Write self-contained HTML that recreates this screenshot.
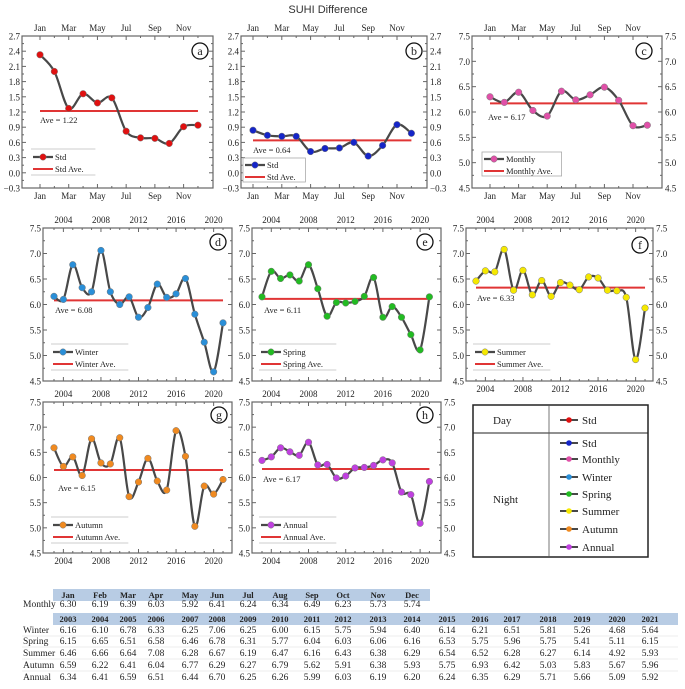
<!DOCTYPE html>
<html><head><meta charset="utf-8"><style>
body{margin:0;background:#fff}
svg{display:block;font-family:"Liberation Serif",serif}
</style></head><body>
<svg id="fig" width="685" height="689" viewBox="0 0 685 689" xmlns="http://www.w3.org/2000/svg">
<text x="328" y="13" font-family="Liberation Sans, sans-serif" font-size="11" fill="#333" text-anchor="middle">SUHI Difference</text>
</svg>
<script>
const months=["Jan","Feb","Mar","Apr","May","Jun","Jul","Aug","Sep","Oct","Nov","Dec"];
const years=[2003,2004,2005,2006,2007,2008,2009,2010,2011,2012,2013,2014,2015,2016,2017,2018,2019,2020,2021];
const dayStd=[2.33,2.0,1.27,1.56,1.38,1.48,0.82,0.69,0.68,0.58,0.91,0.94];
const nightStd=[0.84,0.74,0.72,0.72,0.42,0.48,0.49,0.60,0.33,0.54,0.95,0.78];
const monthly=[6.30,6.19,6.39,6.03,5.92,6.41,6.24,6.34,6.49,6.23,5.73,5.74];
const winter=[6.16,6.10,6.78,6.33,6.25,7.06,6.25,6.00,6.15,5.75,5.94,6.40,6.14,6.21,6.51,5.81,5.26,4.68,5.64];
const spring=[6.15,6.65,6.51,6.58,6.46,6.78,6.31,5.77,6.04,6.03,6.06,6.16,6.53,5.75,5.96,5.75,5.41,5.11,6.15];
const summer=[6.46,6.66,6.64,7.08,6.28,6.67,6.19,6.47,6.16,6.43,6.38,6.29,6.54,6.52,6.28,6.27,6.14,4.92,5.93];
const autumn=[6.59,6.22,6.41,6.04,6.77,6.29,6.27,6.79,5.62,5.91,6.38,5.93,5.75,6.93,6.42,5.03,5.83,5.67,5.96];
const annual=[6.34,6.41,6.59,6.51,6.44,6.70,6.25,6.26,5.99,6.03,6.19,6.20,6.24,6.35,6.29,5.71,5.66,5.09,5.92];
const aves=[1.22,0.64,6.17,6.08,6.11,6.33,6.15,6.17];

const NS="http://www.w3.org/2000/svg";
const svg=document.getElementById('fig');
function mk(tag,attrs,parent){const e=document.createElementNS(NS,tag);for(const k in attrs)e.setAttribute(k,attrs[k]);(parent||svg).appendChild(e);return e;}
function txt(x,y,s,size,anchor,parent){const t=mk('text',{x:x,y:y,'font-size':size,'text-anchor':anchor||'start',fill:'#222'},parent);t.textContent=s;return t;}
function spline(pts){let d="M"+pts[0][0]+","+pts[0][1];for(let i=0;i<pts.length-1;i++){const p0=pts[Math.max(i-1,0)],p1=pts[i],p2=pts[i+1],p3=pts[Math.min(i+2,pts.length-1)];const c1=[p1[0]+(p2[0]-p0[0])/6,p1[1]+(p2[1]-p0[1])/6],c2=[p2[0]-(p3[0]-p1[0])/6,p2[1]-(p3[1]-p1[1])/6];d+=` C${c1[0]},${c1[1]} ${c2[0]},${c2[1]} ${p2[0]},${p2[1]}`;}return d;}

const panels=[
 {id:'a',vals:dayStd,x0:22,x1:213,y0:36,y1:188,ymin:-0.3,ymax:2.7,step:0.3,dec:1,cat:'m',c0:40,dx:14.36,color:'#e01010',right:false,bottom:true,lbl:[200,51],avx:40,avy:123,leg:['Std','Std Ave.'],lx:33,ly:157,box:false},
 {id:'b',vals:nightStd,x0:241,x1:427,y0:36,y1:188,ymin:-0.3,ymax:2.7,step:0.3,dec:1,cat:'m',c0:253,dx:14.4,color:'#1525c8',right:true,bottom:true,lbl:[414,51],avx:253,avy:153,leg:['Std','Std Ave.'],lx:245,ly:165,box:true},
 {id:'c',vals:monthly,x0:472,x1:662,y0:36,y1:188,ymin:4.5,ymax:7.5,step:0.5,dec:1,cat:'m',c0:490,dx:14.3,color:'#e050a8',right:true,bottom:true,lbl:[644,51],avx:488,avy:120,leg:['Monthly','Monthly Ave.'],lx:484,ly:159,box:true},
 {id:'d',vals:winter,x0:43,x1:232,y0:228,y1:381,ymin:4.5,ymax:7.5,step:0.5,dec:1,cat:'y',c0:54,dx:9.39,color:'#2a8fd8',right:false,bottom:false,lbl:[218,242],avx:55,avy:313,leg:['Winter','Winter Ave.'],lx:53,ly:352,box:false},
 {id:'e',vals:spring,x0:252,x1:441,y0:228,y1:381,ymin:4.5,ymax:7.5,step:0.5,dec:1,cat:'y',c0:262,dx:9.3,color:'#22bb22',right:false,bottom:false,lbl:[425,242],avx:264,avy:313,leg:['Spring','Spring Ave.'],lx:261,ly:352,box:false},
 {id:'f',vals:summer,x0:466,x1:653,y0:228,y1:381,ymin:4.5,ymax:7.5,step:0.5,dec:1,cat:'y',c0:476,dx:9.39,color:'#f5e800',right:true,bottom:true,lbl:[640,245],avx:477,avy:301,leg:['Summer','Summer Ave.'],lx:475,ly:352,box:false},
 {id:'g',vals:autumn,x0:43,x1:232,y0:402,y1:553,ymin:4.5,ymax:7.5,step:0.5,dec:1,cat:'y',c0:54,dx:9.39,color:'#f08a20',right:false,bottom:true,lbl:[219,415],avx:58,avy:491,leg:['Autumn','Autumn Ave.'],lx:53,ly:525,box:false},
 {id:'h',vals:annual,x0:252,x1:441,y0:402,y1:553,ymin:4.5,ymax:7.5,step:0.5,dec:1,cat:'y',c0:262,dx:9.3,color:'#c040e0',right:true,bottom:true,lbl:[425,415],avx:263,avy:482,leg:['Annual','Annual Ave.'],lx:261,ly:525,box:false}
];

panels.forEach((p,pi)=>{
 const g=mk('g',{});
 
 
 const ys=v=>p.y1-(v-p.ymin)/(p.ymax-p.ymin)*(p.y1-p.y0);
 const xs=i=>p.c0+i*p.dx;
 const frame=mk('rect',{x:p.x0,y:p.y0,width:p.x1-p.x0,height:p.y1-p.y0,fill:'none',stroke:'#666','stroke-width':1.2},g);
 
 
 const n=Math.round((p.ymax-p.ymin)/p.step);
 for(let k=0;k<=n;k++){const v=p.ymin+k*p.step,y=ys(v);
  mk('line',{x1:p.x0,x2:p.x0+4,y1:y,y2:y,stroke:'#666'},g);mk('line',{x1:p.x1,x2:p.x1-4,y1:y,y2:y,stroke:'#666'},g);
  if(k<n){const ym=ys(v+p.step/2);mk('line',{x1:p.x0,x2:p.x0+2,y1:ym,y2:ym,stroke:'#666'},g);mk('line',{x1:p.x1,x2:p.x1-2,y1:ym,y2:ym,stroke:'#666'},g);}
  const lab=v.toFixed(p.dec).replace('-','\u2212');
  const t=txt(p.x0-2,y+3.5,lab,9,'end',g);
  
  
  if(p.right){const t2=txt(p.x1+3,y+3.5,lab,9,'start',g);
   
   }
 }
 const cats=p.cat==='m'?months:years;
 cats.forEach((c,i)=>{const x=xs(i);
  const major=p.cat==='m'?(i%2===0):((c-2004)%4===0);
  const L=major?4:2;
  mk('line',{x1:x,x2:x,y1:p.y0,y2:p.y0+L,stroke:'#666'},g);mk('line',{x1:x,x2:x,y1:p.y1,y2:p.y1-L,stroke:'#666'},g);
  if(major){
   const t=txt(x,p.y0-5,String(c),9,'middle',g);
   
   
   if(p.bottom){
    const t2=txt(x,p.y1+11,String(c),9,'middle',g);
    
    
   }
  }
 });
 const ay=ys(aves[pi]);
 const al=mk('line',{x1:xs(0),x2:xs(p.vals.length-1),y1:ay,y2:ay,stroke:'#e03535','stroke-width':2},g);
 
 
 const at=txt(p.avx,p.avy,'Ave = '+aves[pi].toFixed(2),8.5,'start',g);
 
 
 const pts=p.vals.map((v,i)=>[xs(i),ys(v)]);
 const path=mk('path',{d:spline(pts),fill:'none',stroke:'#484848','stroke-width':2.2},g);
 
 
 pts.forEach(q=>{const c=mk('circle',{cx:q[0],cy:q[1],r:3.3,fill:p.color,stroke:'#777','stroke-width':0.5},g);
  
  });
 const lc=mk('circle',{cx:p.lbl[0],cy:p.lbl[1],r:8,fill:'#fff',stroke:'#111','stroke-width':1.3},g);
 
 
 const lt=txt(p.lbl[0],p.lbl[1]+4,p.id,12,'middle',g);
 
 
 const lg=mk('g',{},g);
 
 
 const tw=p.leg[1].length*4.3+28;
 if(p.box){mk('rect',{x:p.lx-2,y:p.ly-7,width:tw,height:24,fill:'#fff',stroke:'#aaa','stroke-width':0.8},lg);}
 else{mk('line',{x1:p.lx-2,x2:p.lx+tw,y1:p.ly-8,y2:p.ly-8,stroke:'#ccc'},lg);mk('line',{x1:p.lx-2,x2:p.lx+tw,y1:p.ly+18,y2:p.ly+18,stroke:'#ccc'},lg);}
 mk('line',{x1:p.lx,x2:p.lx+20,y1:p.ly,y2:p.ly,stroke:'#484848','stroke-width':2.2},lg);
 mk('circle',{cx:p.lx+10,cy:p.ly,r:3.2,fill:p.color,stroke:'#777','stroke-width':0.5},lg);
 txt(p.lx+22,p.ly+3,p.leg[0],8.5,'start',lg);
 mk('line',{x1:p.lx,x2:p.lx+20,y1:p.ly+12,y2:p.ly+12,stroke:'#e03535','stroke-width':2},lg);
 txt(p.lx+22,p.ly+15,p.leg[1],8.5,'start',lg);
});

// legend table
const lt=mk('g',{});


mk('rect',{x:473,y:405,width:175,height:152,fill:'#fff',stroke:'#222','stroke-width':1.5},lt);
mk('line',{x1:473,x2:648,y1:433,y2:433,stroke:'#222','stroke-width':1},lt);
mk('line',{x1:549,x2:549,y1:405,y2:557,stroke:'#555','stroke-width':0.8},lt);
txt(493,424,'Day',11,'start',lt);
txt(493,503,'Night',11,'start',lt);
const legNames=['Std','Std','Monthly','Winter','Spring','Summer','Autumn','Annual'];
const legColors=['#e01010','#1525c8','#e050a8','#2a8fd8','#22bb22','#f5e800','#f08a20','#c040e0'];
const legY=[420,443,459,477,494,511,529,547];
legNames.forEach((nm,i)=>{const e=mk('g',{},lt);
 
 
 mk('line',{x1:560,x2:578,y1:legY[i],y2:legY[i],stroke:'#484848','stroke-width':2},e);
 mk('circle',{cx:569,cy:legY[i],r:2.8,fill:legColors[i]},e);
 txt(582,legY[i]+4,nm,11,'start',e);});

// data table
const tb=mk('g',{});


const colX=[68,100,128,156,190,217,248,280,312,343,378,412,447,480,512,548,582,617,650];
mk('rect',{x:53,y:589,width:377,height:12,fill:'#b8cce4'},tb);
mk('rect',{x:53,y:613,width:625,height:12,fill:'#b8cce4'},tb);
const rows=[['Monthly',monthly,607],['Winter',winter,633],['Spring',spring,644],['Summer',summer,656],['Autumn',autumn,668],['Annual',annual,680]];
months.forEach((m,i)=>{const t=txt(colX[i],598,m,8.5,'middle',tb);t.setAttribute('font-weight','bold');});
years.forEach((y,i)=>{const t=txt(colX[i],622,String(y),8.5,'middle',tb);t.setAttribute('font-weight','bold');});
rows.forEach(r=>{const rt=txt(23,r[2],r[0],9.5,'start',tb);
 
 
 r[1].forEach((v,i)=>txt(colX[i],r[2],v.toFixed(2),9.5,'middle',tb));
 if(r[0]!=='Monthly'&&r[0]!=='Annual')mk('line',{x1:22,x2:678,y1:r[2]+3,y2:r[2]+3,stroke:'#ddd','stroke-width':0.6},tb);
});
</script>
</body></html>
